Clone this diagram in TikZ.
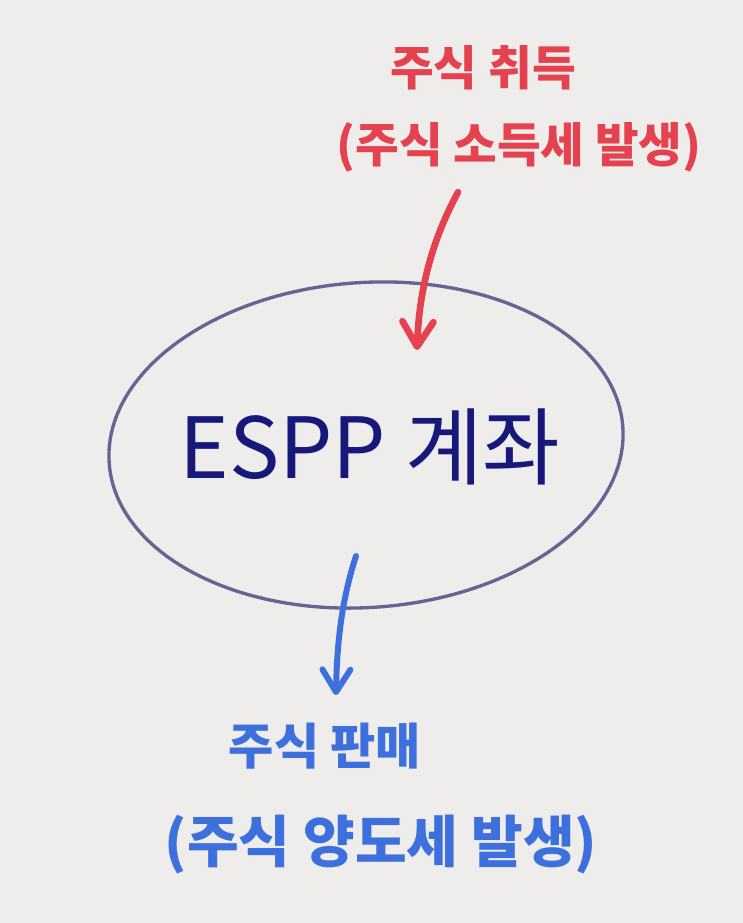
\documentclass[tikz,border=0pt]{standalone}
\usepackage{fontspec}
\setmainfont{Noto Sans CJK KR}
\usetikzlibrary{arrows.meta,shapes.geometric}
\definecolor{NoteRed}{HTML}{E5424F}
\definecolor{NoteBlue}{HTML}{3D70DC}
\definecolor{AcctNavy}{HTML}{16197A}
\definecolor{AcctRing}{HTML}{6A6294}
\definecolor{PaperGray}{HTML}{EEEDEB}

\begin{document}
\begin{tikzpicture}[x=0.02cm, y=-0.02cm, every node/.style={align=center, inner sep=0pt}]
  \fill[PaperGray] (0,0) rectangle (743,923);
  % acquisition note
  \node[text=NoteRed, font=\fontsize{27}{30}\selectfont\bfseries] (buy) at (483,68) {주식 취득};
  \node[text=NoteRed, font=\fontsize{27}{30}\selectfont\bfseries] (buynote) at (519,147) {(주식 소득세 발생)};
  % account
  \node[ellipse, draw=AcctRing, line width=1.9pt, rotate=4, minimum width=10.3cm, minimum height=6.5cm] (acct) at (366,445) {};
  \node[text=AcctNavy, font=\fontsize{48}{52}\selectfont] (acctname) at (370,447) {ESPP 계좌};
  % sale note
  \node[text=NoteBlue, font=\fontsize{28}{31}\selectfont\bfseries] (sell) at (325,746) {주식 판매};
  \node[text=NoteBlue, font=\fontsize{32}{35}\selectfont\bfseries] (sellnote) at (381,845) {(주식 양도세 발생)};
  \coordinate (intip) at (417,350);
  \coordinate (outtail) at (356,556);
  \draw[NoteRed, line width=3.8pt, line cap=round, -{Straight Barb[length=0.5cm, width=0.62cm, round]}]
    ([xshift=-1.22cm, yshift=-0.4cm]buynote.south) .. controls (432,240) and (419,290) .. (intip);
  \draw[NoteBlue, line width=3.4pt, line cap=round, -{Straight Barb[length=0.45cm, width=0.56cm, round]}]
    (outtail) .. controls (345,590) and (337,630) .. ([xshift=0.22cm, yshift=0.55cm]sell.north);
\end{tikzpicture}
\end{document}
